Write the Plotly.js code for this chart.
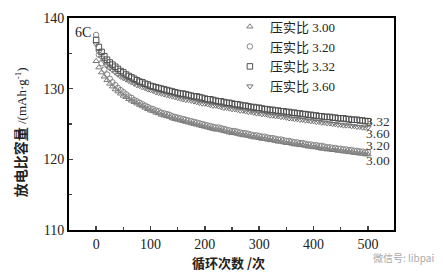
<!DOCTYPE html>
<html><head><meta charset="utf-8">
<script src="https://cdn.plot.ly/plotly-3.0.1.min.js"></script>
<style>html,body{margin:0;padding:0;background:#fff;}#chart{width:443px;height:279px;}</style>
</head><body><div id="chart"></div>
<script>
const cycles = [0,5,10,15,20,25,30,35,40,45,50,55,60,65,70,75,80,85,90,95,100,
105,110,115,120,125,130,135,140,145,150,155,160,165,170,175,180,185,190,195,200,
205,210,215,220,225,230,235,240,245,250,255,260,265,270,275,280,285,290,295,300,
305,310,315,320,325,330,335,340,345,350,355,360,365,370,375,380,385,390,395,400,
405,410,415,420,425,430,435,440,445,450,455,460,465,470,475,480,485,490,495,500];

const cap300 = [133.9,133.0,132.3,131.7,131.2,130.7,130.3,129.9,129.6,129.3,129.0,
128.8,128.5,128.3,128.1,127.9,127.7,127.5,127.3,127.1,126.9,
126.8,126.6,126.5,126.3,126.2,126.1,126.0,125.8,125.7,125.6,
125.5,125.4,125.3,125.2,125.1,125.0,124.9,124.8,124.7,124.6,
124.5,124.4,124.3,124.2,124.2,124.1,124.0,123.9,123.8,123.7,
123.7,123.6,123.5,123.4,123.4,123.3,123.2,123.1,123.1,123.0,
122.9,122.9,122.8,122.7,122.7,122.6,122.5,122.5,122.4,122.3,
122.3,122.2,122.1,122.1,122.0,122.0,121.9,121.8,121.8,121.7,
121.7,121.6,121.5,121.5,121.4,121.4,121.3,121.3,121.2,121.2,
121.1,121.1,121.0,121.0,120.9,120.9,120.8,120.8,120.7,120.7];

const cap320 = [137.6,134.8,133.6,132.7,132.0,131.4,130.9,130.5,130.1,129.8,129.5,
129.2,128.9,128.7,128.4,128.2,128.0,127.8,127.6,127.4,127.2,
127.1,126.9,126.8,126.6,126.5,126.4,126.3,126.1,126.0,125.9,
125.8,125.7,125.6,125.5,125.4,125.3,125.2,125.1,125.0,124.9,
124.8,124.7,124.6,124.5,124.5,124.4,124.3,124.2,124.1,124.0,
124.0,123.9,123.8,123.7,123.7,123.6,123.5,123.4,123.4,123.3,
123.2,123.2,123.1,123.0,123.0,122.9,122.8,122.8,122.7,122.6,
122.6,122.5,122.4,122.4,122.3,122.3,122.2,122.1,122.1,122.0,
122.0,121.9,121.9,121.8,121.7,121.7,121.6,121.6,121.5,121.5,
121.4,121.4,121.3,121.3,121.2,121.2,121.1,121.1,121.0,121.0];

const cap332 = [136.9,135.9,135.2,134.6,134.1,133.7,133.4,133.1,132.8,132.5,132.3,
132.0,131.8,131.6,131.4,131.2,131.0,130.9,130.7,130.6,130.4,
130.3,130.2,130.1,130.0,129.9,129.8,129.7,129.6,129.5,129.4,
129.3,129.3,129.2,129.1,129.0,128.9,128.9,128.8,128.7,128.6,
128.5,128.5,128.4,128.3,128.2,128.2,128.1,128.0,128.0,127.9,
127.8,127.8,127.7,127.6,127.6,127.5,127.4,127.4,127.3,127.3,
127.2,127.1,127.1,127.0,127.0,126.9,126.9,126.8,126.8,126.7,
126.7,126.6,126.6,126.5,126.5,126.4,126.4,126.3,126.3,126.2,
126.2,126.1,126.1,126.0,126.0,126.0,125.9,125.9,125.8,125.8,
125.8,125.7,125.7,125.6,125.6,125.6,125.5,125.5,125.4,125.4];

const cap360 = [136.3,135.2,134.4,133.8,133.3,132.9,132.6,132.3,132.0,131.7,131.5,
131.3,131.1,130.9,130.7,130.5,130.4,130.2,130.1,129.9,129.8,
129.7,129.5,129.4,129.3,129.2,129.1,129.0,128.9,128.8,128.7,
128.6,128.5,128.4,128.4,128.3,128.2,128.1,128.0,127.9,127.9,
127.8,127.7,127.6,127.6,127.5,127.4,127.3,127.3,127.2,127.1,
127.1,127.0,126.9,126.9,126.8,126.7,126.7,126.6,126.5,126.5,
126.4,126.4,126.3,126.2,126.2,126.1,126.1,126.0,126.0,125.9,
125.8,125.8,125.7,125.7,125.6,125.6,125.5,125.5,125.4,125.4,
125.3,125.3,125.2,125.2,125.1,125.1,125.0,125.0,124.9,124.9,
124.8,124.8,124.8,124.7,124.7,124.6,124.6,124.5,124.5,124.5];

const seriesNames = ['压实比 3.00','压实比 3.20','压实比 3.32','压实比 3.60'];
const endLabels = ['3.32','3.60','3.20','3.00'];
const endLabelY = [125.4,123.7,121.9,119.8];

const serif = 'Liberation Serif, Noto Sans CJK SC, serif';
const cjk = 'Noto Sans CJK SC, sans-serif';

function tr(y, name, sym, col, rank){
  return {x: cycles, y: y, name: name, type:'scatter', mode:'markers', legendrank: rank,
    marker:{symbol: sym, size:5.5, color: col, line:{width:1, color: col}}};
}
const data = [
  tr(cap300, seriesNames[0], 'triangle-up-open', '#7a7a7a', 1),
  tr(cap320, seriesNames[1], 'circle-open', '#858585', 2),
  tr(cap360, seriesNames[3], 'triangle-down-open', '#747474', 4),
  tr(cap332, seriesNames[2], 'square-open', '#505050', 3)
];

const annotations = endLabels.map((t,i)=>({x:493, y:endLabelY[i], xref:'x', yref:'y', text:t,
  showarrow:false, xanchor:'left', yanchor:'middle', font:{family:serif, size:13.5, color:'#333'}}));
annotations.push({x:0.012, y:0.975, xref:'paper', yref:'paper', text:'6C', showarrow:false,
  xanchor:'left', yanchor:'top', font:{family:serif, size:14, color:'#222'}});
annotations.push({x:1.13, y:-0.132, xref:'paper', yref:'paper', text:'微信号: libpai', showarrow:false,
  xanchor:'right', yanchor:'middle', font:{family:cjk, size:10, color:'#aaa'}});
annotations.push({x:-0.15, y:0.462, xref:'paper', yref:'paper', textangle:-90, showarrow:false,
  xanchor:'center', yanchor:'middle',
  text:'<span style="font-family:Noto Sans CJK SC;font-size:14px;font-weight:bold">放电比容量</span> /(mAh·g<sup>-1</sup>)',
  font:{family:serif, size:13, color:'#222'}});
annotations.push({x:0.49, y:-0.152, xref:'paper', yref:'paper', showarrow:false,
  xanchor:'center', yanchor:'middle', text:'<b>循环次数 /次</b>',
  font:{family:cjk, size:13, color:'#222'}});

const layout = {
  width:443, height:279,
  margin:{l:69, r:49, t:18, b:49},
  paper_bgcolor:'#fff', plot_bgcolor:'#fff',
  showlegend:true,
  legend:{x:0.495, y:1.03, xanchor:'left', yanchor:'top', bgcolor:'rgba(0,0,0,0)',
    font:{family:serif, size:13, color:'#222'}, itemwidth:30, tracegroupgap:0},
  xaxis:{range:[-50,548], tickvals:[0,100,200,300,400,500], ticks:'inside', ticklen:4, tickwidth:1.5,
    minor:{tickvals:[50,150,250,350,450], ticks:'inside', ticklen:3, tickwidth:1.5},
    showline:true, linecolor:'#000', linewidth:2, mirror:true, showgrid:false, zeroline:false,
    tickfont:{family:serif, size:14, color:'#222'}},
  yaxis:{range:[110,140], tickvals:[110,120,130,140], ticks:'inside', ticklen:4, tickwidth:1.5,
    minor:{tickvals:[115,125,135], ticks:'inside', ticklen:3, tickwidth:1.5},
    showline:true, linecolor:'#000', linewidth:2, mirror:true, showgrid:false, zeroline:false,
    tickfont:{family:serif, size:14, color:'#222'}},
  annotations: annotations
};
Plotly.newPlot('chart', data, layout, {staticPlot:true});
</script></body></html>
